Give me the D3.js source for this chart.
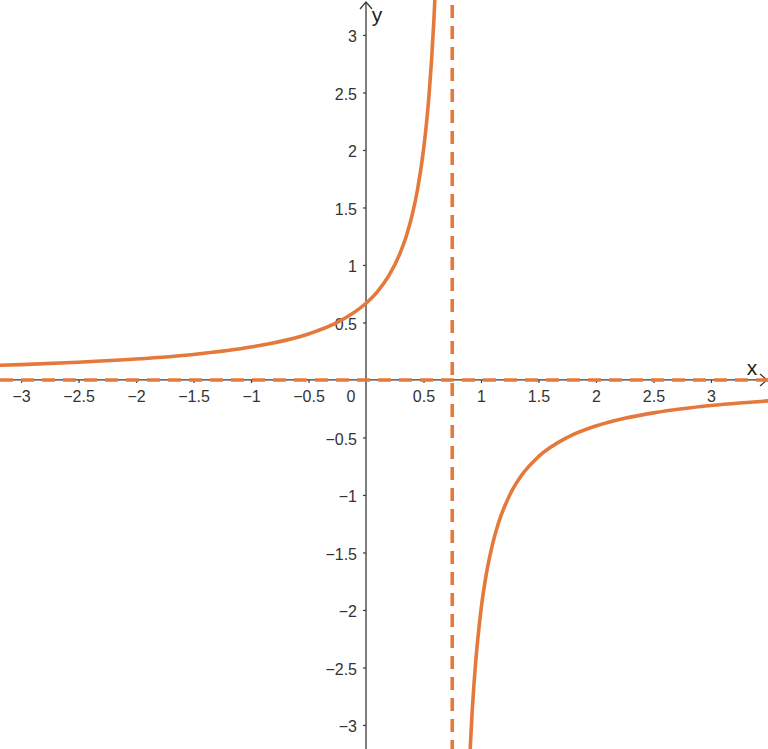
<!DOCTYPE html>
<html>
<head>
<meta charset="utf-8">
<script src="https://cdn.jsdelivr.net/npm/d3@7"></script>
<style>
  html, body { margin: 0; padding: 0; background: #fff; }
  svg { display: block; }
</style>
</head>
<body>
<svg id="chart" width="768" height="749"></svg>
<script>
// ---- data ----
const leftX  = [-3.2, -3, -2.5, -2, -1.5, -1, -0.5, -0.25, 0, 0.1, 0.2, 0.3, 0.35, 0.4, 0.45, 0.5, 0.53, 0.55, 0.57, 0.59, 0.6];
const leftY  = [0.127, 0.133, 0.154, 0.182, 0.222, 0.286, 0.4, 0.5, 0.667, 0.769, 0.909, 1.111, 1.25, 1.429, 1.667, 2.0, 2.273, 2.5, 2.778, 3.125, 3.333];
const rightX = [0.9, 0.92, 0.95, 1.0, 1.05, 1.1, 1.15, 1.25, 1.35, 1.5, 1.75, 2.0, 2.25, 2.5, 2.75, 3.0, 3.25, 3.5];
const rightY = [-3.333, -2.941, -2.5, -2.0, -1.667, -1.429, -1.25, -1.0, -0.833, -0.667, -0.5, -0.4, -0.333, -0.286, -0.25, -0.222, -0.2, -0.182];
const asymptoteX = [0.75];
const asymptoteY = [0];
const xTicks = [-3, -2.5, -2, -1.5, -1, -0.5, 0.5, 1, 1.5, 2, 2.5, 3];
const yTicks = [-3, -2.5, -2, -1.5, -1, -0.5, 0.5, 1, 1.5, 2, 2.5, 3];
const originLabel = "0";
const xAxisLabel = "x";
const yAxisLabel = "y";

// ---- drawing ----
const W = 768, H = 749;
const svg = d3.select("#chart");
const x = d3.scaleLinear().domain([-3.183, 3.496]).range([0, W]);
const y = d3.scaleLinear().domain([3.304, -3.209]).range([0, H]);
const orange = "#e5793b";
const axisColor = "#3a3a3a";
const fmt = d3.format("~g");

svg.append("defs").append("clipPath").attr("id", "clip")
  .append("rect").attr("x", 0).attr("y", 0).attr("width", W).attr("height", H);

// axes (ticks + labels)
const gx = svg.append("g")
  .attr("transform", `translate(0,${y(0)})`)
  .call(d3.axisBottom(x).tickValues(xTicks).tickFormat(fmt).tickSize(3).tickSizeOuter(0).tickPadding(7.6));
const gy = svg.append("g")
  .attr("transform", `translate(${x(0)},0)`)
  .call(d3.axisLeft(y).tickValues(yTicks).tickFormat(fmt).tickSize(3).tickSizeOuter(0).tickPadding(6));

[gx, gy].forEach(g => {
  g.select(".domain").remove();
  g.selectAll(".tick line").attr("stroke", axisColor).attr("stroke-width", 1.2);
  g.selectAll(".tick text")
    .attr("fill", "#333")
    .style("font-family", "'Liberation Sans', Arial, sans-serif")
    .style("font-size", "16px");
});
gy.selectAll(".tick text").attr("dy", "0.42em");

// axis lines
svg.append("line")
  .attr("x1", 0).attr("x2", W - 1)
  .attr("y1", y(0)).attr("y2", y(0))
  .attr("stroke", axisColor).attr("stroke-width", 1.3);
svg.append("line")
  .attr("x1", x(0)).attr("x2", x(0))
  .attr("y1", H).attr("y2", 2)
  .attr("stroke", axisColor).attr("stroke-width", 1.3);

// arrows
svg.append("path")
  .attr("d", `M${W - 8},${y(0) - 6} L${W - 1},${y(0)} L${W - 8},${y(0) + 6}`)
  .attr("fill", "none").attr("stroke", axisColor).attr("stroke-width", 1.3);
svg.append("path")
  .attr("d", `M${x(0) - 6},${9} L${x(0)},${2} L${x(0) + 6},${9}`)
  .attr("fill", "none").attr("stroke", axisColor).attr("stroke-width", 1.3);

// axis names and origin
const labelFont = "'Liberation Sans', Arial, sans-serif";
svg.append("text").text(originLabel)
  .attr("x", x(0) - 15).attr("y", y(0) + 22)
  .attr("text-anchor", "middle").attr("fill", "#333")
  .style("font-family", labelFont).style("font-size", "16px");
svg.append("text").text(xAxisLabel)
  .attr("x", W - 16).attr("y", y(0) - 5)
  .attr("text-anchor", "middle").attr("fill", "#222")
  .style("font-family", labelFont).style("font-size", "21px");
svg.append("text").text(yAxisLabel)
  .attr("x", x(0) + 11).attr("y", 22)
  .attr("text-anchor", "middle").attr("fill", "#222")
  .style("font-family", labelFont).style("font-size", "21px");

// asymptotes
const plot = svg.append("g").attr("clip-path", "url(#clip)");
plot.selectAll(".hasym").data(asymptoteY).join("line")
  .attr("x1", x.range()[0]).attr("x2", x.range()[1])
  .attr("y1", d => y(d)).attr("y2", d => y(d))
  .attr("stroke", orange).attr("stroke-width", 3.6)
  .attr("stroke-dasharray", "13 8");
plot.selectAll(".vasym").data(asymptoteX).join("line")
  .attr("x1", d => x(d)).attr("x2", d => x(d))
  .attr("y1", 5).attr("y2", H)
  .attr("stroke", orange).attr("stroke-width", 3.6)
  .attr("stroke-dasharray", "13 8");

// curve branches
const line = d3.line().x(d => x(d[0])).y(d => y(d[1])).curve(d3.curveMonotoneX);
const branches = [
  leftX.map((v, i) => [v, leftY[i]]),
  rightX.map((v, i) => [v, rightY[i]])
];
plot.selectAll(".branch").data(branches).join("path")
  .attr("d", line)
  .attr("fill", "none").attr("stroke", orange).attr("stroke-width", 3.6)
  .attr("stroke-linecap", "round");
</script>
</body>
</html>
